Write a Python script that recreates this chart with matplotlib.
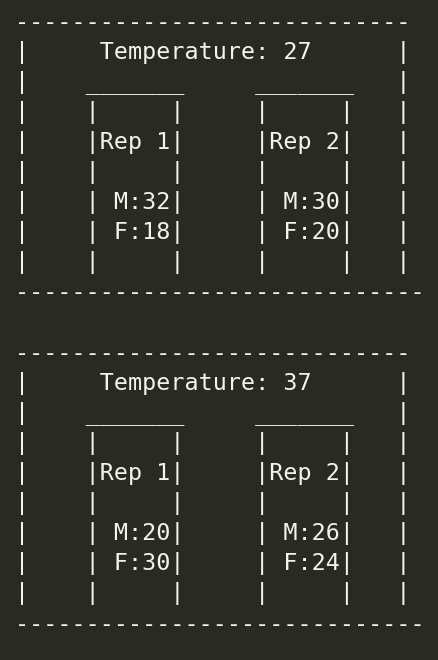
import matplotlib
matplotlib.use("Agg")
import matplotlib.pyplot as plt

temperatures = [27, 37]
rep_labels = ["Rep 1", "Rep 2"]
males = [[32, 30], [20, 26]]
females = [[18, 20], [30, 24]]

W, H = 438, 660
fig = plt.figure(figsize=(W/100, H/100), dpi=100)
fig.patch.set_facecolor("#2a2a25")
ax = fig.add_axes([0, 0, 1, 1])
ax.set_xlim(0, W); ax.set_ylim(H, 0); ax.axis("off")

lines = []
for t, m, f in zip(temperatures, males, females):
    blank = "|    |     |     |     |   |"
    lines += [
        "-" * 28,
        "|     " + f"Temperature: {t}".ljust(21) + "|",
        "|    _______     _______   |",
        blank,
        "|    |" + rep_labels[0] + "|     |" + rep_labels[1] + "|   |",
        blank,
        f"|    | M:{m[0]}|     | M:{m[1]}|   |",
        f"|    | F:{f[0]}|     | F:{f[1]}|   |",
        blank,
        "-" * 29,
        "",
    ]

for i, s in enumerate(lines):
    ax.text(15, 22 + 30.1 * i, s, family="DejaVu Sans Mono", fontsize=16.8,
            color="#f4f4ee", va="center", ha="left")

fig.savefig("out.png", dpi=100, facecolor=fig.get_facecolor())
